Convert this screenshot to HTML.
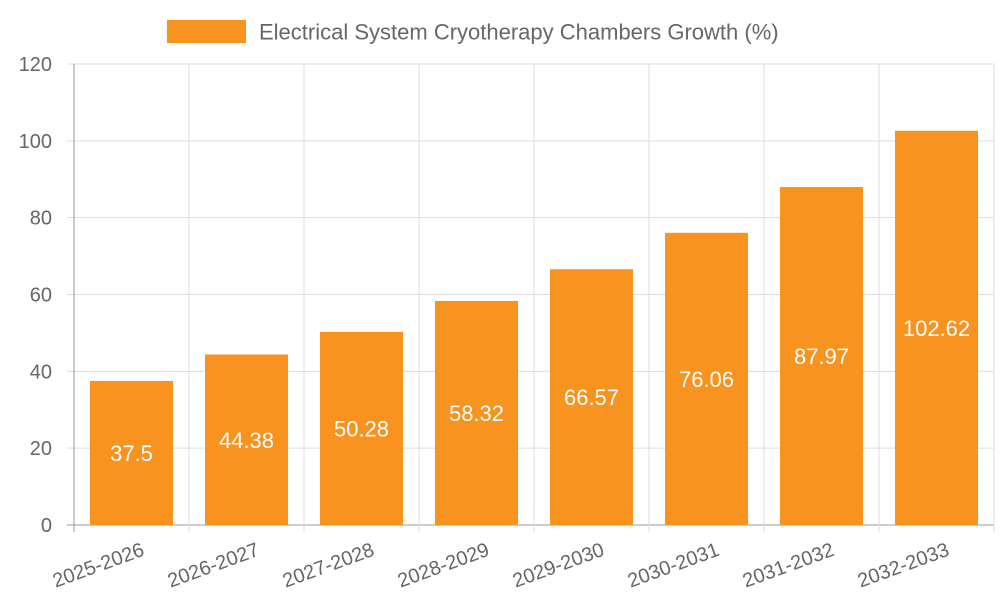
<!DOCTYPE html>
<html><head><meta charset="utf-8"><style>
body{margin:0;background:#fff}
svg text{font-family:"Liberation Sans",sans-serif}
</style></head><body>
<svg id="chart" width="1000" height="600" viewBox="0 0 1000 600" xmlns="http://www.w3.org/2000/svg">
<g id="legend">
<rect x="167" y="20" width="79" height="23" fill="#f7931e"/>
<text x="259" y="39.5" font-size="22" fill="#666">Electrical System Cryotherapy Chambers Growth (%)</text>
</g>
<g id="grid"></g><g id="bars"></g><g id="axes"></g>
</svg>
<script>
const categories=["2025-2026","2026-2027","2027-2028","2028-2029","2029-2030","2030-2031","2031-2032","2032-2033"];
const values=[37.5,44.38,50.28,58.32,66.57,76.06,87.97,102.62];
const yTicks=[0,20,40,60,80,100,120];
const NS="http://www.w3.org/2000/svg";
const L=74,R=994,T=64,B=525,yMax=120;
const step=(R-L)/categories.length,bw=83;
const y=v=>B-(v/yMax)*(B-T);
const x=i=>L+step*i+step/2;
function mk(tag,attrs,parent,txt){const e=document.createElementNS(NS,tag);for(const k in attrs)e.setAttribute(k,attrs[k]);if(txt!==undefined)e.textContent=txt;document.getElementById(parent).appendChild(e);return e;}
yTicks.forEach(t=>{
 const g=mk('line',{x1:L-7,x2:R,y1:y(t),y2:y(t),stroke:t===0?'#999':'#ddd','stroke-width':1},'grid');
 
 
 const lb=mk('text',{x:52,y:y(t)+7,'text-anchor':'end','font-size':20,fill:'#666'},'axes',t);
 
 
});
for(let i=0;i<=categories.length;i++){
 const gx=L+step*i;
 const g=mk('line',{x1:gx,x2:gx,y1:T,y2:B+7,stroke:i===0?'#999':'#ddd','stroke-width':1},'grid');
 
 
}
categories.forEach((c,i)=>{
 const v=values[i];
 const r=mk('rect',{x:x(i)-bw/2,y:y(v),width:bw,height:B-y(v),fill:'#f7931e'},'bars');
 
 
 const vl=mk('text',{x:x(i),y:(y(v)+B)/2+8,'text-anchor':'middle','font-size':22,fill:'#fff'},'bars',v);
 
 
 const xl=mk('text',{x:0,y:0,'text-anchor':'end','font-size':20,fill:'#666',transform:`translate(${x(i)+14},${B+30}) rotate(-20)`},'axes',c);
 
 
});
</script>
</body></html>
